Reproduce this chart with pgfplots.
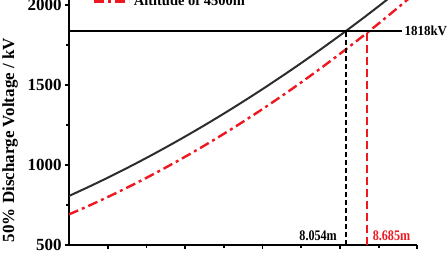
\documentclass[border=0pt]{standalone}
\usepackage{fontspec}
\setmainfont{Liberation Serif}
\usepackage{pgfplots}
\pgfplotsset{compat=1.18}
\definecolor{cblack}{RGB}{45,45,45}
\definecolor{cred}{RGB}{238,24,32}
\begin{document}
\fontsize{8.5}{10}\selectfont\bfseries
\begin{tikzpicture}
\begin{axis}[
  scale only axis,
  width=174.15pt, height=122.65pt,
  xmin=1, xmax=10, ymin=500, ymax=2031,
  clip mode=individual,
  axis lines=left,
  axis line style={-, line width=1pt},
  tick align=outside,
  major tick length=2pt, minor tick length=1.3pt,
  every tick/.style={line width=0.9pt, black},
  xtick={2,4,6,8,10}, minor x tick num=1,
  ytick={500,1000,1500,2000}, minor y tick num=1,
  /pgf/number format/assume math mode=true,
  /pgf/number format/set thousands separator={},
  ticklabel style={font=\fontsize{8.5}{10}\selectfont\bfseries},
  yticklabel style={inner sep=1.5pt},
  xticklabel style={yshift=-3pt},
  ylabel={50\% Discharge Voltage / kV},
  every axis y label/.style={at={(axis cs:-0.52,1157)}, rotate=90, anchor=center, font=\fontsize{8.5}{10}\selectfont\bfseries},
  legend style={draw=none, fill=none, inner sep=0pt, at={(axis cs:1.594,2021.6)}, anchor=west, font=\fontsize{7.25}{8.5}\selectfont\bfseries},
  legend cell align=left,
  legend image code/.code={\draw[#1] (0pt,0pt) -- (17.5pt,0pt);},
]
\coordinate (BL) at (axis cs:-0.783,458.2);
\coordinate (TR) at (axis cs:10.793,2031);
\addplot[forget plot, cblack, line width=1pt, smooth] coordinates {
(1,808.0) (1.5,863.8) (2,921.9) (2.5,982.5) (3,1045.5) (3.5,1111.0) (4,1178.9) (4.5,1249.2) (5,1322.0) (5.5,1397.3) (6,1474.9) (6.5,1555.0) (7,1637.5) (7.5,1722.5) (8,1809.9) (8.5,1899.7) (9,1992.0) (9.5,2086.8) (10,2183.9)};
\addplot[cred, line width=1.2pt, smooth, dash pattern=on 5pt off 2pt on 1.5pt off 2pt] coordinates {
(1,693.0) (1.5,745.7) (2,801.3) (2.5,859.8) (3,921.2) (3.5,985.5) (4,1052.7) (4.5,1122.8) (5,1195.8) (5.5,1271.7) (6,1350.5) (6.5,1432.2) (7,1516.8) (7.5,1604.3) (8,1694.7) (8.5,1788.0) (9,1884.2) (9.5,1983.3) (10,2085.3)};
\addlegendentry{Altitude of 4500m}
\addplot[forget plot, black, line width=1pt] coordinates {(1,1836) (9.6,1836)};
\addplot[forget plot, black, line width=1pt, dash pattern=on 2.5pt off 1.5pt] coordinates {(8.15,500) (8.15,1836)};
\addplot[forget plot, cred, line width=1pt, dash pattern=on 4pt off 2pt] coordinates {(8.69,500) (8.69,1836)};
\node[anchor=west, inner sep=0pt, font=\fontsize{6.9}{8}\selectfont\bfseries] at (axis cs:9.66,1836) {\scalebox{0.94}[1]{1818kV}};
\node[anchor=base east, inner sep=0pt, font=\fontsize{7.3}{8}\selectfont\bfseries] at (axis cs:7.93,529) {\scalebox{0.83}[1]{8.054m}};
\node[anchor=base west, inner sep=0pt, text=cred, font=\fontsize{7.3}{8}\selectfont\bfseries] at (axis cs:8.84,529) {\scalebox{0.83}[1]{8.685m}};
\end{axis}
\pgfresetboundingbox
\useasboundingbox (BL) rectangle (TR);
\end{tikzpicture}
\end{document}
